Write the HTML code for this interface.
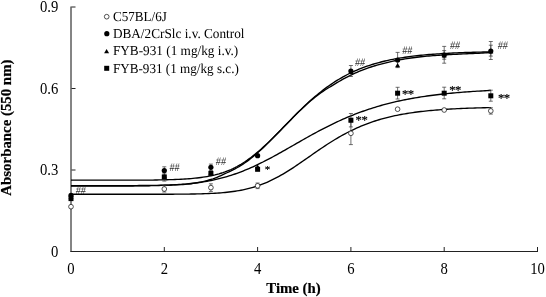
<!DOCTYPE html><html><head><meta charset="utf-8"><title>Absorbance chart</title>
<style>
html,body{margin:0;padding:0;background:#fff;}
svg{display:block;font-family:"Liberation Serif","Times New Roman",serif;}
.t{font-size:14.67px;fill:#000;}
.l{font-size:13.2px;fill:#000;}
.b{font-size:14.67px;font-weight:bold;fill:#000;stroke:#000;stroke-width:0.2;}
.h{font-size:10.4px;fill:#2e2e2e;}
.s{font-size:12.6px;fill:#000;stroke:#000;stroke-width:0.22;letter-spacing:-0.5px;}
.c{fill:none;stroke:#000;stroke-width:1.35;stroke-linecap:butt;stroke-linejoin:round;}
.e{stroke:#404040;stroke-width:0.75;fill:none;}
.a{stroke:#222;stroke-width:1;fill:none;}
</style></head><body>
<svg width="546" height="297" viewBox="0 0 546 297">
<rect width="546" height="297" fill="#fff"/>
<path d="M71,6.5 V252" stroke="#0a0a0a" stroke-width="1" fill="none"/>
<path class="a" d="M70.5,251.5 H538 M71.5,7.0 H75.5 M71.5,88.5 H75.5 M71.5,170.0 H75.5 M164.30,251.5 V247 M257.60,251.5 V247 M350.90,251.5 V247 M444.20,251.5 V247 M537.50,251.5 V247"/>
<text class="t" transform="translate(58.25,12.0) scale(1,1.07)" text-anchor="end">0.9</text>
<text class="t" transform="translate(58.25,93.5) scale(1,1.07)" text-anchor="end">0.6</text>
<text class="t" transform="translate(58.25,175.0) scale(1,1.07)" text-anchor="end">0.3</text>
<text class="t" transform="translate(58.25,256.5) scale(1,1.07)" text-anchor="end">0</text>
<text class="t" transform="translate(71.0,273.9) scale(1,1.07)" text-anchor="middle">0</text>
<text class="t" transform="translate(164.3,273.9) scale(1,1.07)" text-anchor="middle">2</text>
<text class="t" transform="translate(257.6,273.9) scale(1,1.07)" text-anchor="middle">4</text>
<text class="t" transform="translate(350.9,273.9) scale(1,1.07)" text-anchor="middle">6</text>
<text class="t" transform="translate(444.2,273.9) scale(1,1.07)" text-anchor="middle">8</text>
<text class="t" transform="translate(537.5,273.9) scale(1,1.07)" text-anchor="middle">10</text>
<text class="b" x="293.5" y="292.5" text-anchor="middle" style="font-size:14.8px">Time (h)</text>
<text class="b" transform="translate(11.3,127.6) rotate(-90)" style="font-size:14.85px" text-anchor="middle">Absorbance (550 nm)</text>
<path class="c" d="M71.0,194.29 L73.0,194.29 L75.0,194.29 L77.0,194.29 L79.0,194.29 L81.0,194.29 L83.0,194.29 L85.0,194.29 L87.0,194.29 L89.0,194.29 L91.0,194.29 L93.0,194.29 L95.0,194.29 L97.0,194.29 L99.0,194.29 L101.0,194.29 L103.0,194.29 L105.0,194.29 L107.0,194.29 L109.0,194.29 L111.0,194.29 L113.0,194.29 L115.0,194.29 L117.0,194.29 L119.0,194.29 L121.0,194.29 L123.0,194.29 L125.0,194.29 L127.0,194.28 L129.0,194.28 L131.0,194.28 L133.0,194.28 L135.0,194.28 L137.0,194.28 L139.0,194.28 L141.0,194.28 L143.0,194.28 L145.0,194.28 L147.0,194.27 L149.0,194.27 L151.0,194.27 L153.0,194.27 L155.0,194.26 L157.0,194.26 L159.0,194.25 L161.0,194.25 L163.0,194.24 L165.0,194.24 L167.0,194.23 L169.0,194.22 L171.0,194.22 L173.0,194.21 L175.0,194.19 L177.0,194.18 L179.0,194.17 L181.0,194.15 L183.0,194.13 L185.0,194.11 L187.0,194.09 L189.0,194.06 L191.0,194.03 L193.0,194.00 L195.0,193.96 L197.0,193.92 L199.0,193.87 L201.0,193.81 L203.0,193.76 L205.0,193.69 L207.0,193.62 L209.0,193.53 L211.0,193.44 L213.0,193.34 L215.0,193.23 L217.0,193.10 L219.0,192.96 L221.0,192.81 L223.0,192.64 L225.0,192.46 L227.0,192.26 L229.0,192.04 L231.0,191.79 L233.0,191.53 L235.0,191.24 L237.0,190.93 L239.0,190.59 L241.0,190.22 L243.0,189.82 L245.0,189.39 L247.0,188.93 L249.0,188.43 L251.0,187.90 L253.0,187.33 L255.0,186.73 L257.0,186.08 L259.0,185.40 L261.0,184.68 L263.0,183.91 L265.0,183.11 L267.0,182.26 L269.0,181.37 L271.0,180.44 L273.0,179.47 L275.0,178.46 L277.0,177.41 L279.0,176.33 L281.0,175.21 L283.0,174.05 L285.0,172.86 L287.0,171.64 L289.0,170.39 L291.0,169.11 L293.0,167.81 L295.0,166.49 L297.0,165.14 L299.0,163.78 L301.0,162.41 L303.0,161.03 L305.0,159.64 L307.0,158.24 L309.0,156.84 L311.0,155.44 L313.0,154.05 L315.0,152.66 L317.0,151.27 L319.0,149.90 L321.0,148.54 L323.0,147.19 L325.0,145.87 L327.0,144.55 L329.0,143.26 L331.0,141.99 L333.0,140.75 L335.0,139.53 L337.0,138.33 L339.0,137.16 L341.0,136.02 L343.0,134.90 L345.0,133.82 L347.0,132.76 L349.0,131.73 L351.0,130.73 L353.0,129.77 L355.0,128.83 L357.0,127.92 L359.0,127.04 L361.0,126.19 L363.0,125.36 L365.0,124.57 L367.0,123.80 L369.0,123.07 L371.0,122.35 L373.0,121.67 L375.0,121.01 L377.0,120.38 L379.0,119.77 L381.0,119.18 L383.0,118.62 L385.0,118.08 L387.0,117.57 L389.0,117.07 L391.0,116.60 L393.0,116.14 L395.0,115.71 L397.0,115.29 L399.0,114.89 L401.0,114.51 L403.0,114.15 L405.0,113.80 L407.0,113.47 L409.0,113.15 L411.0,112.85 L413.0,112.56 L415.0,112.28 L417.0,112.02 L419.0,111.76 L421.0,111.52 L423.0,111.30 L425.0,111.08 L427.0,110.87 L429.0,110.67 L431.0,110.48 L433.0,110.30 L435.0,110.13 L437.0,109.97 L439.0,109.81 L441.0,109.66 L443.0,109.52 L445.0,109.39 L447.0,109.26 L449.0,109.14 L451.0,109.02 L453.0,108.91 L455.0,108.80 L457.0,108.70 L459.0,108.61 L461.0,108.52 L463.0,108.43 L465.0,108.35 L467.0,108.27 L469.0,108.20 L471.0,108.13 L473.0,108.06 L475.0,108.00 L477.0,107.94 L479.0,107.88 L481.0,107.82 L483.0,107.77 L485.0,107.72 L487.0,107.67 L489.0,107.63 L491.0,107.59"/>
<path class="c" d="M71.0,180.12 L73.0,180.12 L75.0,180.12 L77.0,180.12 L79.0,180.12 L81.0,180.12 L83.0,180.12 L85.0,180.12 L87.0,180.12 L89.0,180.12 L91.0,180.12 L93.0,180.12 L95.0,180.12 L97.0,180.12 L99.0,180.12 L101.0,180.12 L103.0,180.12 L105.0,180.12 L107.0,180.12 L109.0,180.12 L111.0,180.12 L113.0,180.12 L115.0,180.12 L117.0,180.12 L119.0,180.12 L121.0,180.12 L123.0,180.12 L125.0,180.12 L127.0,180.11 L129.0,180.11 L131.0,180.11 L133.0,180.11 L135.0,180.10 L137.0,180.10 L139.0,180.10 L141.0,180.09 L143.0,180.09 L145.0,180.08 L147.0,180.08 L149.0,180.07 L151.0,180.06 L153.0,180.05 L155.0,180.04 L157.0,180.00 L159.0,179.95 L161.0,179.91 L163.0,179.86 L165.0,179.81 L167.0,179.75 L169.0,179.69 L171.0,179.63 L173.0,179.56 L175.0,179.49 L177.0,179.40 L179.0,179.31 L181.0,179.21 L183.0,179.11 L185.0,178.99 L187.0,178.85 L189.0,178.71 L191.0,178.55 L193.0,178.37 L195.0,178.18 L197.0,177.96 L199.0,177.73 L201.0,177.47 L203.0,177.18 L205.0,176.87 L207.0,176.55 L209.0,176.20 L211.0,175.81 L213.0,175.39 L215.0,174.93 L217.0,174.42 L219.0,173.87 L221.0,173.27 L223.0,172.63 L225.0,171.93 L227.0,171.17 L229.0,170.36 L231.0,169.50 L233.0,168.57 L235.0,167.58 L237.0,166.53 L239.0,165.42 L241.0,164.25 L243.0,163.01 L245.0,161.71 L247.0,160.35 L249.0,158.92 L251.0,157.44 L253.0,155.89 L255.0,154.29 L257.0,152.63 L259.0,150.93 L261.0,149.17 L263.0,147.36 L265.0,145.51 L267.0,143.63 L269.0,141.70 L271.0,139.75 L273.0,137.77 L275.0,135.76 L277.0,133.74 L279.0,131.69 L281.0,129.64 L283.0,127.58 L285.0,125.52 L287.0,123.46 L289.0,121.40 L291.0,119.36 L293.0,117.32 L295.0,115.30 L297.0,113.30 L299.0,111.32 L301.0,109.37 L303.0,107.44 L305.0,105.55 L307.0,103.68 L309.0,101.85 L311.0,100.06 L313.0,98.30 L315.0,96.58 L317.0,94.90 L319.0,93.27 L321.0,91.67 L323.0,90.12 L325.0,88.60 L327.0,87.14 L329.0,85.71 L331.0,84.33 L333.0,82.99 L335.0,81.69 L337.0,80.43 L339.0,79.22 L341.0,78.05 L343.0,76.92 L345.0,75.82 L347.0,74.77 L349.0,73.76 L351.0,72.78 L353.0,71.84 L355.0,70.94 L357.0,70.07 L359.0,69.23 L361.0,68.43 L363.0,67.66 L365.0,66.92 L367.0,66.21 L369.0,65.53 L371.0,64.88 L373.0,64.25 L375.0,63.66 L377.0,63.08 L379.0,62.53 L381.0,62.01 L383.0,61.51 L385.0,61.03 L387.0,60.57 L389.0,60.13 L391.0,59.71 L393.0,59.31 L395.0,58.93 L397.0,58.56 L399.0,58.21 L401.0,57.88 L403.0,57.56 L405.0,57.26 L407.0,56.97 L409.0,56.69 L411.0,56.43 L413.0,56.17 L415.0,55.93 L417.0,55.71 L419.0,55.49 L421.0,55.28 L423.0,55.08 L425.0,54.89 L427.0,54.71 L429.0,54.54 L431.0,54.38 L433.0,54.22 L435.0,54.07 L437.0,53.93 L439.0,53.80 L441.0,53.67 L443.0,53.54 L445.0,53.43 L447.0,53.32 L449.0,53.21 L451.0,53.11 L453.0,53.01 L455.0,52.92 L457.0,52.84 L459.0,52.75 L461.0,52.67 L463.0,52.60 L465.0,52.53 L467.0,52.46 L469.0,52.40 L471.0,52.33 L473.0,52.27 L475.0,52.22 L477.0,52.17 L479.0,52.12 L481.0,52.07 L483.0,52.02 L485.0,51.98 L487.0,51.94 L489.0,51.90 L491.0,51.86"/>
<path class="c" d="M71.0,185.67 L73.0,185.67 L75.0,185.67 L77.0,185.67 L79.0,185.67 L81.0,185.67 L83.0,185.67 L85.0,185.67 L87.0,185.67 L89.0,185.66 L91.0,185.66 L93.0,185.66 L95.0,185.66 L97.0,185.65 L99.0,185.65 L101.0,185.65 L103.0,185.64 L105.0,185.64 L107.0,185.64 L109.0,185.63 L111.0,185.63 L113.0,185.62 L115.0,185.62 L117.0,185.61 L119.0,185.61 L121.0,185.60 L123.0,185.60 L125.0,185.59 L127.0,185.59 L129.0,185.58 L131.0,185.57 L133.0,185.56 L135.0,185.55 L137.0,185.55 L139.0,185.54 L141.0,185.52 L143.0,185.51 L145.0,185.49 L147.0,185.48 L149.0,185.46 L151.0,185.44 L153.0,185.41 L155.0,185.38 L157.0,185.35 L159.0,185.32 L161.0,185.28 L163.0,185.24 L165.0,185.19 L167.0,185.14 L169.0,185.08 L171.0,185.02 L173.0,184.95 L175.0,184.87 L177.0,184.78 L179.0,184.68 L181.0,184.58 L183.0,184.46 L185.0,184.33 L187.0,184.16 L189.0,183.96 L191.0,183.72 L193.0,183.44 L195.0,183.15 L197.0,182.82 L199.0,182.45 L201.0,182.04 L203.0,181.59 L205.0,181.10 L207.0,180.57 L209.0,180.01 L211.0,179.41 L213.0,178.77 L215.0,178.04 L217.0,177.26 L219.0,176.43 L221.0,175.55 L223.0,174.64 L225.0,173.71 L227.0,172.76 L229.0,171.81 L231.0,170.86 L233.0,169.87 L235.0,168.84 L237.0,167.75 L239.0,166.60 L241.0,165.39 L243.0,164.11 L245.0,162.76 L247.0,161.34 L249.0,159.85 L251.0,158.31 L253.0,156.70 L255.0,155.04 L257.0,153.33 L259.0,151.58 L261.0,149.77 L263.0,147.92 L265.0,146.03 L267.0,144.10 L269.0,142.13 L271.0,140.14 L273.0,138.12 L275.0,136.09 L277.0,134.05 L279.0,132.00 L281.0,129.94 L283.0,127.88 L285.0,125.82 L287.0,123.76 L289.0,121.70 L291.0,119.66 L293.0,117.62 L295.0,115.60 L297.0,113.60 L299.0,111.62 L301.0,109.67 L303.0,107.77 L305.0,105.91 L307.0,104.09 L309.0,102.33 L311.0,100.60 L313.0,98.92 L315.0,97.28 L317.0,95.70 L319.0,94.20 L321.0,92.75 L323.0,91.36 L325.0,90.00 L327.0,88.71 L329.0,87.49 L331.0,86.30 L333.0,85.11 L335.0,83.89 L337.0,82.66 L339.0,81.47 L341.0,80.31 L343.0,79.19 L345.0,78.11 L347.0,77.07 L349.0,76.06 L351.0,75.08 L353.0,74.12 L355.0,73.19 L357.0,72.29 L359.0,71.42 L361.0,70.59 L363.0,69.81 L365.0,69.06 L367.0,68.35 L369.0,67.66 L371.0,67.01 L373.0,66.38 L375.0,65.77 L377.0,65.20 L379.0,64.64 L381.0,64.10 L383.0,63.57 L385.0,63.05 L387.0,62.54 L389.0,62.05 L391.0,61.59 L393.0,61.15 L395.0,60.72 L397.0,60.31 L399.0,59.93 L401.0,59.57 L403.0,59.22 L405.0,58.89 L407.0,58.58 L409.0,58.28 L411.0,57.99 L413.0,57.72 L415.0,57.46 L417.0,57.22 L419.0,56.99 L421.0,56.78 L423.0,56.57 L425.0,56.38 L427.0,56.19 L429.0,56.02 L431.0,55.85 L433.0,55.69 L435.0,55.53 L437.0,55.39 L439.0,55.25 L441.0,55.11 L443.0,54.98 L445.0,54.86 L447.0,54.74 L449.0,54.63 L451.0,54.52 L453.0,54.42 L455.0,54.32 L457.0,54.22 L459.0,54.13 L461.0,54.04 L463.0,53.95 L465.0,53.87 L467.0,53.78 L469.0,53.70 L471.0,53.62 L473.0,53.54 L475.0,53.44 L477.0,53.34 L479.0,53.24 L481.0,53.13 L483.0,53.02 L485.0,52.90 L487.0,52.79 L489.0,52.67 L491.0,52.56"/>
<path class="c" d="M71.0,186.12 L73.0,186.12 L75.0,186.12 L77.0,186.12 L79.0,186.12 L81.0,186.12 L83.0,186.12 L85.0,186.12 L87.0,186.12 L89.0,186.12 L91.0,186.11 L93.0,186.11 L95.0,186.11 L97.0,186.11 L99.0,186.10 L101.0,186.10 L103.0,186.10 L105.0,186.09 L107.0,186.09 L109.0,186.08 L111.0,186.08 L113.0,186.07 L115.0,186.07 L117.0,186.06 L119.0,186.05 L121.0,186.04 L123.0,186.03 L125.0,186.02 L127.0,186.01 L129.0,185.99 L131.0,185.98 L133.0,185.96 L135.0,185.94 L137.0,185.92 L139.0,185.90 L141.0,185.87 L143.0,185.84 L145.0,185.81 L147.0,185.78 L149.0,185.74 L151.0,185.70 L153.0,185.65 L155.0,185.61 L157.0,185.55 L159.0,185.49 L161.0,185.43 L163.0,185.36 L165.0,185.28 L167.0,185.20 L169.0,185.11 L171.0,185.01 L173.0,184.91 L175.0,184.79 L177.0,184.67 L179.0,184.54 L181.0,184.39 L183.0,184.23 L185.0,184.07 L187.0,183.89 L189.0,183.69 L191.0,183.48 L193.0,183.26 L195.0,183.02 L197.0,182.77 L199.0,182.50 L201.0,182.21 L203.0,181.90 L205.0,181.58 L207.0,181.23 L209.0,180.87 L211.0,180.48 L213.0,180.07 L215.0,179.64 L217.0,179.18 L219.0,178.71 L221.0,178.20 L223.0,177.68 L225.0,177.13 L227.0,176.55 L229.0,175.95 L231.0,175.33 L233.0,174.68 L235.0,174.00 L237.0,173.30 L239.0,172.57 L241.0,171.81 L243.0,171.04 L245.0,170.23 L247.0,169.41 L249.0,168.56 L251.0,167.68 L253.0,166.78 L255.0,165.86 L257.0,164.92 L259.0,163.96 L261.0,162.98 L263.0,161.98 L265.0,160.96 L267.0,159.93 L269.0,158.88 L271.0,157.81 L273.0,156.74 L275.0,155.65 L277.0,154.54 L279.0,153.43 L281.0,152.31 L283.0,151.18 L285.0,150.05 L287.0,148.91 L289.0,147.77 L291.0,146.62 L293.0,145.48 L295.0,144.33 L297.0,143.18 L299.0,142.04 L301.0,140.90 L303.0,139.76 L305.0,138.63 L307.0,137.51 L309.0,136.39 L311.0,135.28 L313.0,134.18 L315.0,133.09 L317.0,132.01 L319.0,130.94 L321.0,129.88 L323.0,128.84 L325.0,127.81 L327.0,126.79 L329.0,125.79 L331.0,124.80 L333.0,123.83 L335.0,122.87 L337.0,121.93 L339.0,121.01 L341.0,120.10 L343.0,119.21 L345.0,118.33 L347.0,117.48 L349.0,116.64 L351.0,115.81 L353.0,115.01 L355.0,114.22 L357.0,113.45 L359.0,112.69 L361.0,111.96 L363.0,111.24 L365.0,110.54 L367.0,109.85 L369.0,109.18 L371.0,108.53 L373.0,107.89 L375.0,107.27 L377.0,106.67 L379.0,106.08 L381.0,105.51 L383.0,104.95 L385.0,104.41 L387.0,103.88 L389.0,103.37 L391.0,102.87 L393.0,102.39 L395.0,101.92 L397.0,101.46 L399.0,101.02 L401.0,100.59 L403.0,100.17 L405.0,99.76 L407.0,99.37 L409.0,98.99 L411.0,98.61 L413.0,98.26 L415.0,97.91 L417.0,97.57 L419.0,97.24 L421.0,96.92 L423.0,96.62 L425.0,96.32 L427.0,96.03 L429.0,95.75 L431.0,95.48 L433.0,95.22 L435.0,94.97 L437.0,94.72 L439.0,94.48 L441.0,94.25 L443.0,94.03 L445.0,93.82 L447.0,93.61 L449.0,93.41 L451.0,93.21 L453.0,93.02 L455.0,92.84 L457.0,92.67 L459.0,92.50 L461.0,92.33 L463.0,92.17 L465.0,92.02 L467.0,91.87 L469.0,91.73 L471.0,91.59 L473.0,91.45 L475.0,91.33 L477.0,91.20 L479.0,91.08 L481.0,90.96 L483.0,90.85 L485.0,90.74 L487.0,90.64 L489.0,90.53 L491.0,90.44"/>
<path class="e" d="M164.3,185.7 V192 M162.3,185.7 h4.0 M162.3,192 h4.0 M210.9,183.8 V191.4 M208.9,183.8 h4.0 M208.9,191.4 h4.0 M257.6,183 V188.6 M255.6,183 h4.0 M255.6,188.6 h4.0 M350.9,122 V144.6 M348.9,122 h4.0 M348.9,144.6 h4.0 M490.8,107.7 V114.1 M488.8,107.7 h4.0 M488.8,114.1 h4.0 M164.3,166.8 V174.2 M162.3,166.8 h4.0 M162.3,174.2 h4.0 M210.9,164.1 V170.5 M208.9,164.1 h4.0 M208.9,170.5 h4.0 M350.9,65.5 V76.5 M348.9,65.5 h4.0 M348.9,76.5 h4.0 M397.6,52.4 V67.6 M395.6,52.4 h4.0 M395.6,67.6 h4.0 M444.2,46.4 V63.2 M442.2,46.4 h4.0 M442.2,63.2 h4.0 M490.8,41.5 V59.5 M488.8,41.5 h4.0 M488.8,59.5 h4.0 M490.8,45.2 V56.1 M488.8,45.2 h4.0 M488.8,56.1 h4.0 M444.2,50.6 V59.2 M442.2,50.6 h4.0 M442.2,59.2 h4.0 M164.3,172.9 V181.1 M162.3,172.9 h4.0 M162.3,181.1 h4.0 M350.9,113.5 V126.9 M348.9,113.5 h4.0 M348.9,126.9 h4.0 M397.6,87.3 V99 M395.6,87.3 h4.0 M395.6,99 h4.0 M444.2,87.2 V98.8 M442.2,87.2 h4.0 M442.2,98.8 h4.0 M490.8,90.2 V101.2 M488.8,90.2 h4.0 M488.8,101.2 h4.0"/>
<circle cx="71.0" cy="206.7" r="2.35" fill="#fff" stroke="#1a1a1a" stroke-width="0.75"/>
<circle cx="164.3" cy="189" r="2.35" fill="#fff" stroke="#1a1a1a" stroke-width="0.75"/>
<circle cx="210.9" cy="187.6" r="2.35" fill="#fff" stroke="#1a1a1a" stroke-width="0.75"/>
<circle cx="257.6" cy="185.8" r="2.35" fill="#fff" stroke="#1a1a1a" stroke-width="0.75"/>
<circle cx="350.9" cy="133.3" r="2.35" fill="#fff" stroke="#1a1a1a" stroke-width="0.75"/>
<circle cx="397.6" cy="109.2" r="2.35" fill="#fff" stroke="#1a1a1a" stroke-width="0.75"/>
<circle cx="444.2" cy="110" r="2.35" fill="#fff" stroke="#1a1a1a" stroke-width="0.75"/>
<circle cx="490.8" cy="110.9" r="2.35" fill="#fff" stroke="#1a1a1a" stroke-width="0.75"/>
<circle cx="71.0" cy="195.3" r="2.6" fill="#000"/>
<circle cx="164.3" cy="170.5" r="2.6" fill="#000"/>
<circle cx="210.9" cy="167.3" r="2.6" fill="#000"/>
<circle cx="257.6" cy="155.7" r="2.6" fill="#000"/>
<circle cx="350.9" cy="71" r="2.6" fill="#000"/>
<circle cx="397.6" cy="60" r="2.6" fill="#000"/>
<circle cx="444.2" cy="55.0" r="2.6" fill="#000"/>
<circle cx="490.8" cy="51.1" r="2.6" fill="#000"/>
<path d="M71.0,194.7 l2.5,4.1 h-5 z" fill="#000"/>
<path d="M164.3,174.2 l2.5,4.1 h-5 z" fill="#000"/>
<path d="M210.9,170.4 l2.5,4.1 h-5 z" fill="#000"/>
<path d="M257.6,164.4 l2.5,4.1 h-5 z" fill="#000"/>
<path d="M350.9,69.9 l2.5,4.1 h-5 z" fill="#000"/>
<path d="M397.6,63.1 l2.5,4.1 h-5 z" fill="#000"/>
<path d="M444.2,53.5 l2.5,4.1 h-5 z" fill="#000"/>
<path d="M490.8,49.5 l2.5,4.1 h-5 z" fill="#000"/>
<rect x="68.5" y="196.1" width="5" height="5" fill="#000"/>
<rect x="161.8" y="174.5" width="5" height="5" fill="#000"/>
<rect x="208.4" y="170.9" width="5" height="5" fill="#000"/>
<rect x="255.1" y="166.8" width="5" height="5" fill="#000"/>
<rect x="348.4" y="117.7" width="5" height="5" fill="#000"/>
<rect x="395.1" y="90.7" width="5" height="5" fill="#000"/>
<rect x="441.7" y="90.7" width="5" height="5" fill="#000"/>
<rect x="488.3" y="93.3" width="5" height="5" fill="#000"/>
<text class="h" transform="translate(75.4,193.8) skewX(-5) scale(0.97,1.1)">##</text>
<text class="h" transform="translate(169.2,170.8) skewX(-5) scale(0.97,1.1)">##</text>
<text class="h" transform="translate(215.6,165.4) skewX(-5) scale(0.97,1.1)">##</text>
<text class="h" transform="translate(354.8,66.2) skewX(-5) scale(0.97,1.1)">##</text>
<text class="h" transform="translate(401.9,53.6) skewX(-5) scale(0.97,1.1)">##</text>
<text class="h" transform="translate(449.7,48.7) skewX(-5) scale(0.97,1.1)">##</text>
<text class="h" transform="translate(497.5,49.0) skewX(-5) scale(0.97,1.1)">##</text>
<text class="s" x="355.6" y="123.6">**</text>
<text class="s" x="402" y="98.3">**</text>
<text class="s" x="449.3" y="93.6">**</text>
<text class="s" x="497.9" y="101.9">**</text>
<text x="264.7" y="172.6" style="font-size:11px;fill:#000;stroke:#000;stroke-width:0.2">*</text>
<circle cx="106.7" cy="16.7" r="2.35" fill="#fff" stroke="#1a1a1a" stroke-width="0.75"/>
<circle cx="106.8" cy="33.7" r="2.6" fill="#000"/>
<path d="M106.6,49.1 l2.5,4.1 h-5 z" fill="#000"/>
<rect x="104.2" y="65.8" width="5" height="5" fill="#000"/>
<text class="l" transform="translate(112.9,21) skewX(0.1) scale(1,1.04)" textLength="54.0" lengthAdjust="spacingAndGlyphs">C57BL/6J</text>
<text class="l" transform="translate(112.9,38) skewX(0.1) scale(1,1.04)" textLength="131.6" lengthAdjust="spacingAndGlyphs">DBA/2CrSlc i.v. Control</text>
<text class="l" transform="translate(112.9,55) skewX(0.1) scale(1,1.04)" textLength="125.3" lengthAdjust="spacingAndGlyphs">FYB-931 (1 mg/kg i.v.)</text>
<text class="l" transform="translate(112.9,73) skewX(0.1) scale(1,1.04)" textLength="125.9" lengthAdjust="spacingAndGlyphs">FYB-931 (1 mg/kg s.c.)</text>
</svg></body></html>
